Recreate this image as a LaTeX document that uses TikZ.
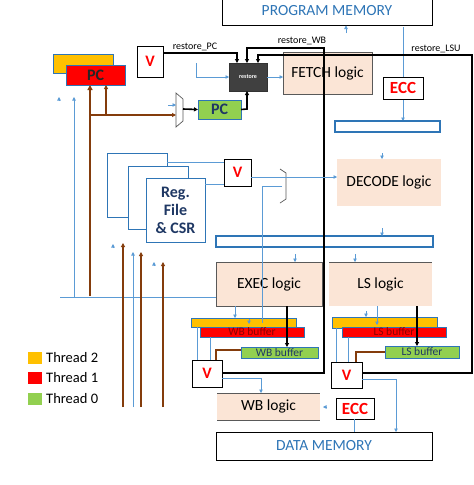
\documentclass[tikz,border=0pt]{standalone}
\usepackage{fontspec}
\setmainfont{Carlito}
\usetikzlibrary{arrows.meta}
\definecolor{peach}{HTML}{FBE5D6}
\definecolor{bline}{HTML}{5B9BD5}
\definecolor{bbord}{HTML}{2E75B6}
\definecolor{gline}{HTML}{595959}
\definecolor{brn}{HTML}{843C0C}
\definecolor{yel}{HTML}{FFC000}
\definecolor{grn}{HTML}{92D050}
\definecolor{navy}{HTML}{1F3864}
\definecolor{dred}{HTML}{8B0000}
\begin{document}
\begin{tikzpicture}[x=1pt,y=-1pt,
  bx/.style n args={4}{inner sep=0pt, outer sep=0pt,
     minimum width={((#3)-(#1))*1pt}, minimum height={((#4)-(#2))*1pt},
     at={({((#1)+(#3))/2},{((#2)+(#4))/2})}},
  mem/.style={draw=black, line width=0.7pt, text=bbord, font=\fontsize{15.5}{17}\selectfont},
  logicbox/.style={fill=peach, font=\fontsize{15.5}{17}\selectfont},
  vbox/.style={draw=black, line width=0.6pt, fill=white, text=red, font=\bfseries\fontsize{16}{17}\selectfont},
  eccbox/.style={draw=black, line width=0.8pt, fill=white, text=red, font=\bfseries\fontsize{17}{18}\selectfont},
  bar/.style={draw=bbord, line width=1.2pt, fill=white},
  buf/.style={draw=bbord, line width=1pt, font=\fontsize{11.5}{12}\selectfont},
  bl/.style={draw=bline, line width=0.6pt},
  bk/.style={draw=black, line width=1.6pt},
  brt/.style={draw=brn, line width=2.6pt},
  brs/.style={draw=brn, line width=1.3pt},
  bltip/.style={-{Triangle[length=3.5pt,width=3.5pt]}},
  bktip/.style={-{Triangle[length=4pt,width=4pt]}},
  brtip/.style={-{Triangle[length=5pt,width=5pt]}},
  regb/.style={draw=bbord, line width=1pt, fill=white},
  lbl/.style={font=\fontsize{10}{11}\selectfont, anchor=south, inner sep=1pt}
]
\useasboundingbox (0,0) rectangle (474,485);

% ---- blue line from program memory (behind) ----
\coordinate (pmdown) at (403,27);
\draw[bl,bltip] (pmdown) -- (403,121);

% memories
\node[mem, bx={222}{-2}{432}{27}, yshift=1.5pt] (pm) {PROGRAM MEMORY};
\node[mem, bx={216}{432}{432}{460}] (dm) {DATA MEMORY};

% logic boxes
\node[logicbox, draw=gline, line width=0.6pt, bx={283}{52}{372}{94}] (fetch) {FETCH logic};
\node[logicbox, bx={337}{159}{441}{206}] (decode) {DECODE logic};
\node[logicbox, draw=gline, line width=0.6pt, bx={216}{262}{322}{306}] (exec) {EXEC logic};
\node[logicbox, bx={329}{262}{432}{306}] (ls) {LS logic};
\draw[gline, line width=0.8pt] (ls.north west) -- (ls.north east);
\node[logicbox, bx={217}{393}{320}{420}] (wbl) {WB logic};
\draw[gline, line width=0.8pt] (wbl.north west) -- (wbl.north east);
\draw[gline, line width=0.8pt] (wbl.south west) -- (wbl.south east);

% pipeline bars
\node[bar, bx={335}{121}{440}{132}] (bar1) {};
\node[bar, bx={216}{236}{433}{247}] (bar2) {};

% ECC boxes
\node[eccbox, bx={383}{77}{423}{99}] (ecct) {ECC};
\node[eccbox, bx={336}{398}{374}{419}] (eccb) {ECC};

% V boxes
\node[vbox, bx={137}{46}{163}{77}] (vt) {V};
\node[vbox, bx={224}{159}{251}{186}] (vm) {V};
\node[vbox, bx={192}{360}{222}{387}] (vwb) {V};
\node[vbox, bx={331}{362}{362}{388}] (vls) {V};

% restore
\node[fill=black!75, draw=black!80, bx={229}{63}{267}{91}, text=white, font=\bfseries\fontsize{6}{7}\selectfont] (rest) {restore};

% PCs
\node[draw=bbord, line width=1pt, fill=yel, bx={53}{54}{113}{73}] (pc2) {};
\node[draw=bbord, line width=1pt, fill=red, bx={66}{65}{125}{85}, font=\bfseries\fontsize{16}{17}\selectfont, text=black!85] (pc1) {PC};
\node[draw=bbord, line width=1pt, fill=grn, bx={198}{100}{241}{119}, font=\bfseries\fontsize{16}{17}\selectfont, text=navy] (pc0) {PC};

% mux
\draw[gline, line width=0.7pt, fill=white] (176,93) -- (183,99) -- (183,121) -- (176,127) -- cycle;
\coordinate (muxin) at (176,115);
\coordinate (muxout) at (183,109);

% register file stack
\node[regb, bx={107}{153}{167}{217}] (rfa) {};
\node[regb, bx={128}{166}{188}{229}] (rfb) {};
\node[regb, bx={146}{178}{205}{242}, align=center, text=navy, font=\bfseries\fontsize{16}{18}\selectfont] (rfc) {Reg.\\File\\\& CSR};

% buffers EXEC side
\node[buf, fill=yel, bx={191}{318}{296}{327}] (wby) {};
\node[buf, fill=red, bx={200}{327}{304}{337}, text=dred] (wbr) {WB buffer};
\node[buf, fill=grn, bx={241}{347}{318}{358}, text=navy] (wbg) {WB buffer};
% buffers LS side
\node[buf, fill=yel, bx={332}{317}{437}{328}] (lsy) {};
\node[buf, fill=red, bx={342}{327}{446}{337}, text=dred] (lsr) {LS buffer};
\node[buf, fill=grn, bx={385}{346}{459}{358}, text=navy] (lsg) {LS buffer};

% bracket
\draw[gline, line width=0.7pt] (280,169) -- (286,173) -- (286,199) -- (280,203);
\coordinate (brk2) at (282,186);

% ---- black restore lines ----
\draw[bk,bktip] (vt.east |- 0,53) -- (237,53) -- (237,63);
\node[lbl] (lpc) at (195,52) {restore\_PC};
\draw[bk,bktip] (vwb.east |- 0,373) -- (324,373) -- (324,48) -- (247,48) -- (247,63);
\node[lbl] (lwb) at (302,46) {restore\_WB};
\draw[bk,bktip] (vls.east |- 0,373) -- (472,373) -- (472,55) -- (258,55) -- (258,63);
\node[lbl] (llsu) at (436,54) {restore\_LSU};
\draw[bk,bktip] (pc0.east) -- (247,109) -- (rest.south -| 247,0);
\draw[bk,bktip] (muxout) -- (pc0.west);
\draw[bk,bktip] (exec.south -| 287,0) -- (wbg.north -| 287,0);
\draw[bk,bktip] (ls.south -| 417,0) -- (lsg.north -| 417,0);

% ---- blue connectors ----
\draw[bl,bltip] (196,63) -- (196,77) -- (rest.west);
\draw[bl,bltip] (rest.east) -- (fetch.west |- 0,77);
\draw[bl,bltip] (346,33) -- (pm.south -| 346,0);
\draw[bl,bltip] (382,153) -- (decode.north -| 382,0);
\draw[bl,bltip] (382,228) -- (bar2.north -| 382,0);
\draw[bl,bltip] (295,254) -- (exec.north -| 295,0);
\draw[bl,bltip] (355,254) -- (ls.north -| 355,0);
\draw[bl,bltip] (168,105) -- (176,105);
\draw[bl] (rfa.east |- 0,162) -- (vm.west |- 0,162);
\draw[bl] (rfc.east |- 0,184) -- (vm.west |- 0,184);
\draw[bl,bltip] (vm.east |- 0,177) -- (decode.west |- 0,177);
\draw[bl] (brk2) -- (262,186) -- (262,323);
\draw[bl,bltip] (74,297) -- (74,97);
\draw[bl,bltip] (59,101) -- (59,97);
\draw[bl] (60,297) -- (exec.west |- 0,297);
\draw[bl,bltip] (133,407) -- (133,252);
\draw[bl,bltip] (113,248) -- (113,244);
\draw[bl,bltip] (154,266) -- (154,262);
\draw[bl] (197,327) -- (197,360);
\draw[bl] (210,337) -- (210,360);
\draw[bl] (336,328) -- (336,362);
\draw[bl] (348,337) -- (348,362);
\draw[bl,bltip] (235,306) -- (wby.north -| 235,0);
\draw[bl,bltip] (249,319) -- (249,324);
\draw[bl,bltip] (366,311) -- (lsy.north -| 366,0);
\draw[bl,bltip] (377,306) -- (377,325);
\draw[bl,bltip] (vwb.east |- 0,378) -- (261,378) -- (wbl.north -| 261,0);
\draw[bl,bltip] (327,407) -- (323,407);
\draw[bl] (eccb.south -| 354,0) -- (dm.north -| 354,0);
\draw[bl,bltip] (vls.east |- 0,379) -- (396,379) -- (dm.north -| 396,0);

% ---- brown connectors ----
\draw[brt,brtip] (90,296) -- (pc1.south -| 90,0);
\draw[brs,bktip] (90,115) -- (muxin);
\draw[brs,bktip] (106,115) -- (pc1.south -| 106,0);
\draw[brs,bktip] (123,407) -- (123,243);
\draw[brs,bktip] (141,407) -- (141,252);
\draw[brs,bktip] (163,407) -- (163,262);
\draw[brs] (wbg.west |- 0,350) -- (216,350) -- (vwb.north -| 216,0);
\draw[brs] (lsg.west |- 0,352) -- (356,352) -- (vls.north -| 356,0);

% ---- legend ----
\node[fill=yel, bx={28}{352}{42}{364}] (ly) {};
\node[fill=red, bx={28}{372}{42}{384}] (lr) {};
\node[fill=grn, bx={28}{393}{42}{405}] (lg) {};
\node[anchor=west, inner sep=0pt, font=\fontsize{14.5}{16}\selectfont] (t2) at (46,358) {Thread 2};
\node[anchor=west, inner sep=0pt, font=\fontsize{14.5}{16}\selectfont] (t1) at (46,378) {Thread 1};
\node[anchor=west, inner sep=0pt, font=\fontsize{14.5}{16}\selectfont] (t0) at (46,399) {Thread 0};
\end{tikzpicture}
\end{document}
